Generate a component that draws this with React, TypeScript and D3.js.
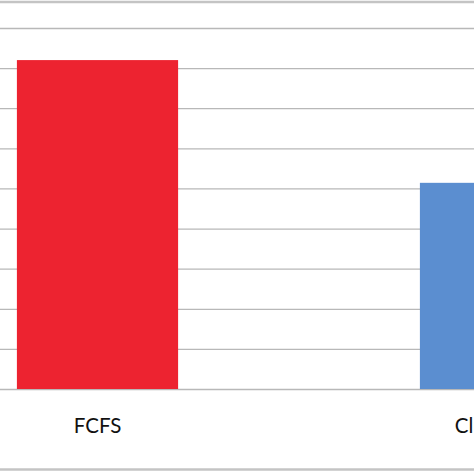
import { useRef, useEffect } from 'react';
import { select, scaleLinear, scaleBand, axisLeft, range } from 'd3';

// Chart data (the picture is a crop of a wider chart)
const categories = ['FCFS', 'Clustering'];
const values = [82, 51.4];
const colors = ['#ED2330', '#5B8ED0'];
const tickValues = range(0, 100, 10);

function App() {
    const graphRef = useRef<SVGSVGElement | null>(null);

    // Set dimensions
    const width = 474;
    const height = 474;
    const plotTop = 28;
    const plotBottom = 389;

    // Set scales
    const xScale = scaleBand<string>()
        .domain(categories)
        .range([-104, 702])
        .paddingInner(0.6)
        .paddingOuter(0.3);
    const yScale = scaleLinear().domain([0, 90]).range([plotBottom, plotTop]);

    useEffect(() => {
        const graph = select(graphRef.current);
        graph.selectAll('*').remove();

        // Outer frame (top and bottom edges visible)
        graph
            .append('line')
            .attr('x1', 0)
            .attr('x2', width)
            .attr('y1', 2)
            .attr('y2', 2)
            .attr('stroke', '#c4c4c4')
            .attr('stroke-width', 2.5);
        graph
            .append('line')
            .attr('x1', 0)
            .attr('x2', width)
            .attr('y1', 469.5)
            .attr('y2', 469.5)
            .attr('stroke', '#c4c4c4')
            .attr('stroke-width', 2.5);

        // Gridlines
        const grid = graph
            .append('g')
            .call(
                axisLeft(yScale)
                    .tickValues(tickValues)
                    .tickSize(-width)
                    .tickFormat(() => '')
            );
        grid.select('.domain').remove();
        grid.selectAll('line').attr('stroke', '#b8b8b8').attr('stroke-width', 1.3);

        // Bars
        graph
            .append('g')
            .selectAll('rect')
            .data(categories)
            .join('rect')
            .attr('x', (d) => xScale(d) ?? 0)
            .attr('y', (d, i) => yScale(values[i]))
            .attr('width', xScale.bandwidth())
            .attr('height', (d, i) => plotBottom - yScale(values[i]))
            .attr('fill', (d, i) => colors[i]);

        // Category labels
        graph
            .append('g')
            .selectAll('text')
            .data(categories)
            .join('text')
            .text((d) => d)
            .attr('x', (d) => (xScale(d) ?? 0) + xScale.bandwidth() / 2)
            .attr('y', 433)
            .attr('text-anchor', 'middle')
            .style('font-family', 'Lato, "Open Sans", sans-serif')
            .style('font-size', '20.5px')
            .style('fill', '#111');
    }, []);

    return (
        <div style={{ position: 'fixed', left: 0, top: 0, width, height, background: '#fff' }}>
            <svg ref={graphRef} width={width} height={height} style={{ display: 'block' }}></svg>
        </div>
    );
}

export default App;
